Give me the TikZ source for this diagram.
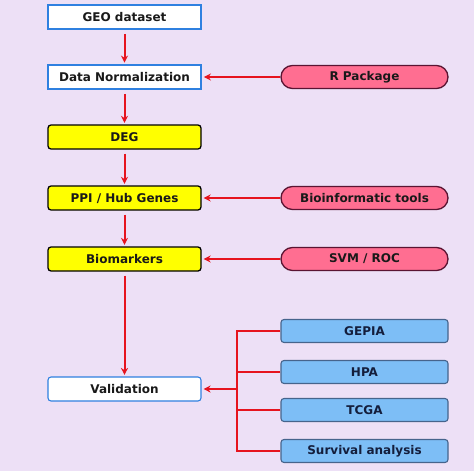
\documentclass[tikz,border=0pt]{standalone}
\usepackage{fontspec}
\setmainfont{DejaVu Sans}
\usetikzlibrary{arrows.meta}
\definecolor{bgc}{RGB}{237, 224, 246}
\definecolor{bdr}{RGB}{47, 128, 224}
\definecolor{yel}{RGB}{255, 255, 0}
\definecolor{pnk}{RGB}{255, 110, 145}
\definecolor{pnb}{RGB}{90, 20, 50}
\definecolor{sky}{RGB}{125, 190, 246}
\definecolor{skb}{RGB}{70, 100, 140}
\definecolor{skt}{RGB}{20, 30, 60}
\definecolor{arr}{RGB}{230, 20, 30}

\begin{document}
\begin{tikzpicture}[x=1pt, y=1pt,
    every node/.style={font=\fontsize{12}{14}\selectfont\bfseries, text=black!90, inner sep=0pt},
    wbox/.style={draw=bdr, fill=white, line width=1.8pt, minimum width=153pt, minimum height=24pt},
    vbox/.style={draw=bdr, fill=white, line width=1.1pt, rounded corners=3pt, minimum width=153pt, minimum height=24pt},
    ybox/.style={draw=black, fill=yel, line width=1.3pt, rounded corners=3pt, minimum width=153pt, minimum height=24pt},
    pill/.style={draw=pnb, fill=pnk, line width=1.3pt, rounded corners=11.5pt, minimum width=167pt, minimum height=23pt},
    sbox/.style={draw=skb, fill=sky, line width=1.1pt, rounded corners=3pt, minimum width=167pt, minimum height=23pt, text=skt},
    flow/.style={draw=arr, line width=2pt, -{Stealth[length=7pt, width=7pt]}},
    wire/.style={draw=arr, line width=2pt}]
      \fill[bgc] (0, 0) rectangle (474, -471);
      \useasboundingbox (0, 0) rectangle (474, -471);
      % left column
      \node[wbox] (geo) at (124.5, -17) {GEO dataset};
      \node[wbox] (norm) at (124.5, -77) {Data Normalization};
      \node[ybox] (deg) at (124.5, -137) {DEG};
      \node[ybox] (ppi) at (124.5, -198) {PPI / Hub Genes};
      \node[ybox] (bio) at (124.5, -259) {Biomarkers};
      \node[vbox] (valid) at (124.5, -389) {Validation};
      % tools
      \node[pill] (rpkg) at (364.5, -77) {R Package};
      \node[pill] (tools) at (364.5, -198) {Bioinformatic tools};
      \node[pill] (svm) at (364.5, -259) {SVM / ROC};
      % validation sources
      \node[sbox] (gepia) at (364.5, -331) {GEPIA};
      \node[sbox] (hpa) at (364.5, -372) {HPA};
      \node[sbox] (tcga) at (364.5, -410) {TCGA};
      \node[sbox] (surv) at (364.5, -451) {Survival analysis};
      \coordinate (bus) at (237, -389);
      % arrows
      \draw[flow, shorten <=4pt, shorten >=1.5pt] (geo) -- (norm);
      \draw[flow, shorten <=4pt, shorten >=1.5pt] (norm) -- (deg);
      \draw[flow, shorten <=4pt, shorten >=1.5pt] (deg) -- (ppi);
      \draw[flow, shorten <=4pt, shorten >=1.5pt] (ppi) -- (bio);
      \draw[flow, shorten <=4pt, shorten >=1.5pt] (bio) -- (valid);
      \draw[flow, shorten >=2pt] (rpkg) -- (norm);
      \draw[flow, shorten >=2pt] (tools) -- (ppi);
      \draw[flow, shorten >=2pt] (svm) -- (bio);
      \draw[wire] (gepia.west) -- (gepia.west -| bus) -- (surv.west -| bus) -- (surv.west);
      \draw[wire] (hpa.west) -- (hpa.west -| bus);
      \draw[wire] (tcga.west) -- (tcga.west -| bus);
      \draw[flow, shorten >=2pt] (bus) -- (valid);
\end{tikzpicture}
\end{document}
